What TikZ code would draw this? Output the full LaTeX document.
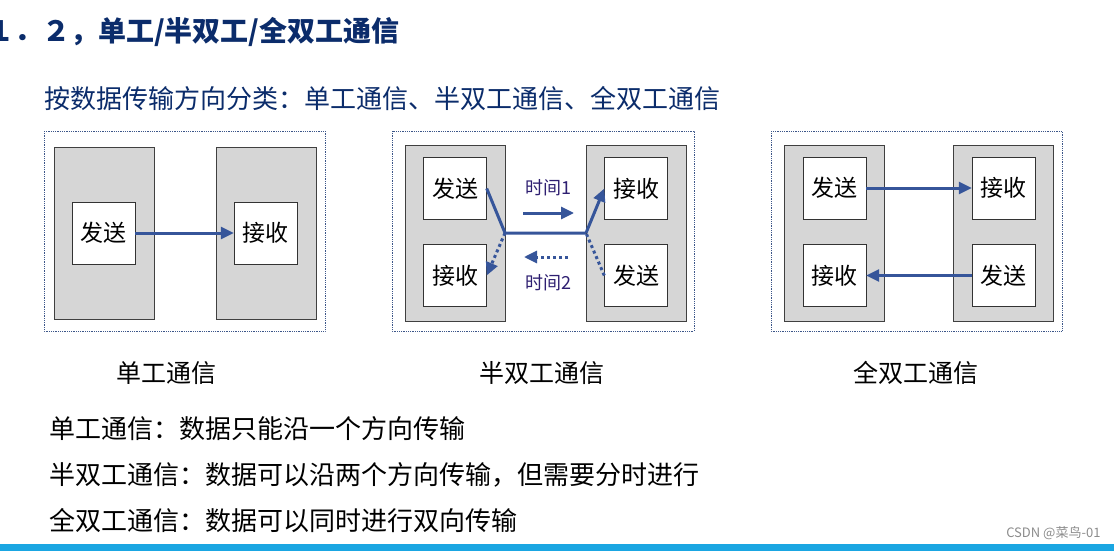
\documentclass[tikz,border=0pt]{standalone}
\usepackage{fontspec}
\setmainfont{Noto Sans CJK SC}
\usetikzlibrary{arrows.meta}
\definecolor{navy}{HTML}{0B2C6B}
\definecolor{arr}{HTML}{36559A}
\definecolor{grayf}{HTML}{D6D6D6}
\definecolor{cyanbar}{HTML}{1AA6E2}
\begin{document}
\begin{tikzpicture}[x=1pt,y=-1pt,
  panel/.style={draw=navy!80,densely dotted,thick},
  dev/.style={draw=black!75,fill=grayf},
  wbox/.style={draw=black!80,fill=white,minimum width=63pt,minimum height=62pt,inner sep=0pt,font=\fontsize{23}{23}\selectfont},
  arrw/.style={draw=arr,line width=3pt,-{Triangle[length=13pt,width=12pt]}},
  lnw/.style={draw=arr,line width=3pt},
  tl/.style={font=\fontsize{18}{18}\selectfont,text=navy!70!violet},
  captxt/.style={font=\fontsize{25}{25}\selectfont,anchor=center},
  body/.style={font=\fontsize{26}{26}\selectfont,anchor=west,inner sep=0pt}]
\useasboundingbox (0,0) rectangle (1114,551);
\fill[white] (0,0) rectangle (1114,551);
\node[anchor=west,text=navy,font=\fontsize{28}{28}\selectfont\bfseries,inner sep=0pt] (title) at (-14,32) {１．２，单工/半双工/全双工通信};
\node[anchor=west,text=navy,font=\fontsize{26}{26}\selectfont,inner sep=0pt] (sub) at (44,99) {按数据传输方向分类：单工通信、半双工通信、全双工通信};
% panel 1
\draw[panel] (44,131) rectangle (325,331);
\draw[dev] (54,147) rectangle (154,319);
\draw[dev] (216,147) rectangle (316,319);
\node[wbox] (s1) at (103.5,233) {发送};
\node[wbox] (r1) at (265.5,233) {接收};
\draw[arrw] (s1.east) -- (r1.west);
% panel 2
\draw[panel] (392,131) rectangle (694,331);
\draw[dev] (405,145) rectangle (505,321);
\draw[dev] (586,145) rectangle (686,321);
\node[wbox] (s2) at (455,188.5) {发送};
\node[wbox] (r2) at (455,275.5) {接收};
\node[wbox] (r3) at (636,188.5) {接收};
\node[wbox] (s3) at (636,275.5) {发送};
\coordinate (j1) at (505,233);
\coordinate (j2) at (586,233);
\draw[lnw] (s2.east) -- (j1) -- (j2);
\draw[arrw] (j2) -- (r3.west);
\draw[lnw,dashed] (s3.west) -- (j2);
\draw[arrw,dashed] (j1) -- (r2.east);
\coordinate (a1) at (523,213); \coordinate (b1) at (574,213);
\draw[arrw] (a1) -- (b1);
\coordinate (a2) at (568,257); \coordinate (b2) at (524,257);
\draw[arrw,dashed] (a2) -- (b2);
\node[tl] (t1) at (548,188) {时间1};
\node[tl] (t2) at (548,283) {时间2};
% panel 3
\draw[panel] (771,131) rectangle (1062,331);
\draw[dev] (784,145) rectangle (884,321);
\draw[dev] (953,145) rectangle (1053,321);
\node[wbox] (s4) at (834.5,188) {发送};
\node[wbox] (r4) at (834.5,275.5) {接收};
\node[wbox] (r5) at (1003.5,188) {接收};
\node[wbox] (s5) at (1003.5,275.5) {发送};
\draw[arrw] (s4.east) -- (r5.west);
\draw[arrw] (s5.west) -- (r4.east);
% captions
\node[captxt] (c1) at (166,373) {单工通信};
\node[captxt] (c2) at (542,373) {半双工通信};
\node[captxt] (c3) at (916,373) {全双工通信};
\node[body] (l1) at (49,429) {单工通信：数据只能沿一个方向传输};
\node[body] (l2) at (49,475) {半双工通信：数据可以沿两个方向传输，但需要分时进行};
\node[body] (l3) at (49,521) {全双工通信：数据可以同时进行双向传输};
\node[anchor=east,text=black!45,font=\fontsize{13}{13}\selectfont] (wm) at (1104,533) {CSDN @菜鸟-01};
\fill[cyanbar] (0,544) rectangle (1114,551);
\end{tikzpicture}
\end{document}
